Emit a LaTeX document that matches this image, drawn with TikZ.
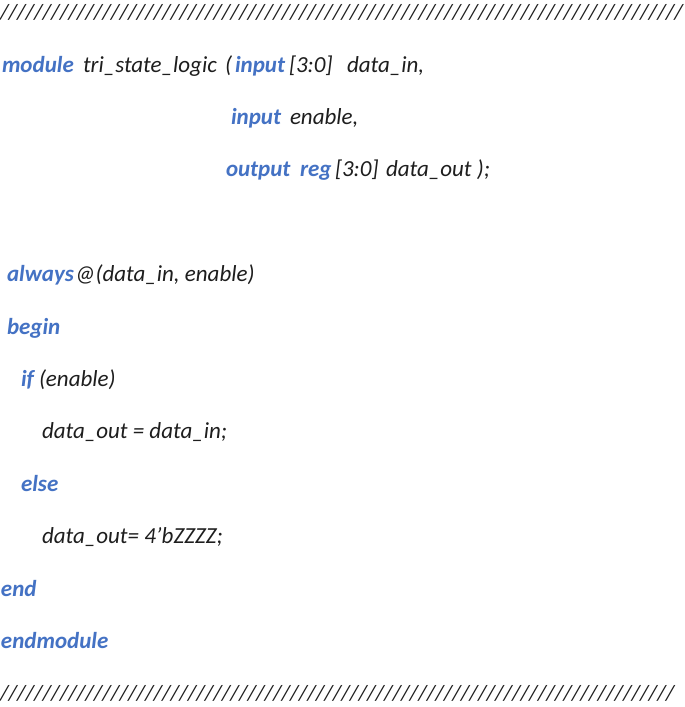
\documentclass[tikz,border=0pt]{standalone}
\usepackage{fontspec}
\setmainfont{Carlito}
\definecolor{kwblue}{RGB}{68,114,196}
\definecolor{codegray}{RGB}{30,30,30}
\begin{document}
\begin{tikzpicture}[x=1pt,y=-1pt,
  code/.style={anchor=base west,inner sep=0pt,outer sep=0pt,text=codegray,font=\fontsize{23}{27}\selectfont\itshape},
  kw/.style={code,text=kwblue,font=\fontsize{23}{27}\selectfont\bfseries\itshape},
  rule/.style={code,font=\fontsize{22}{26}\selectfont\itshape}]
\useasboundingbox (0,0) rectangle (685,707);
\fill[white] (0,0) rectangle (685,707);
\node[rule] (top) at (0,19.6) {////////////////////////////////////////////////////////////////////////////////};
% module line
\node[kw] (mod) at (2,72) {module};
\node[code] (name) at (83,72) {tri\_state\_logic};
\node[code] (paren) at (225,72) {(};
\node[kw] (in1) at (235,72) {input};
\node[code] (rng1) at (289,72) {[3:0]};
\node[code] (din) at (347,72) {data\_in,};
% input enable
\node[kw] (in2) at (231,124.4) {input};
\node[code] (en) at (290,124.4) {enable,};
% output
\node[kw] (out) at (226,176.8) {output};
\node[kw] (reg) at (300,176.8) {reg};
\node[code] (rng2) at (335,176.8) {[3:0]};
\node[code] (dout) at (386,176.8) {data\_out );};
% always block
\node[kw] (alw) at (7,281.6) {always};
\node[code] (sens) at (75,281.6) {@(data\_in, enable)};
\node[kw] (beg) at (7,334) {begin};
\node[kw] (if) at (21,386.4) {if};
\node[code] (cond) at (39,386.4) {(enable)};
\node[code] (as1) at (42,438.8) {data\_out = data\_in;};
\node[kw] (else) at (21,491.2) {else};
\node[code] (as2) at (42,543.6) {data\_out= 4\char"27 bZZZZ;};
\node[kw] (end) at (1,596) {end};
\node[kw] (endm) at (1,648.4) {endmodule};
\node[rule] (bot) at (0,700.8) {///////////////////////////////////////////////////////////////////////////////};
\end{tikzpicture}
\end{document}
